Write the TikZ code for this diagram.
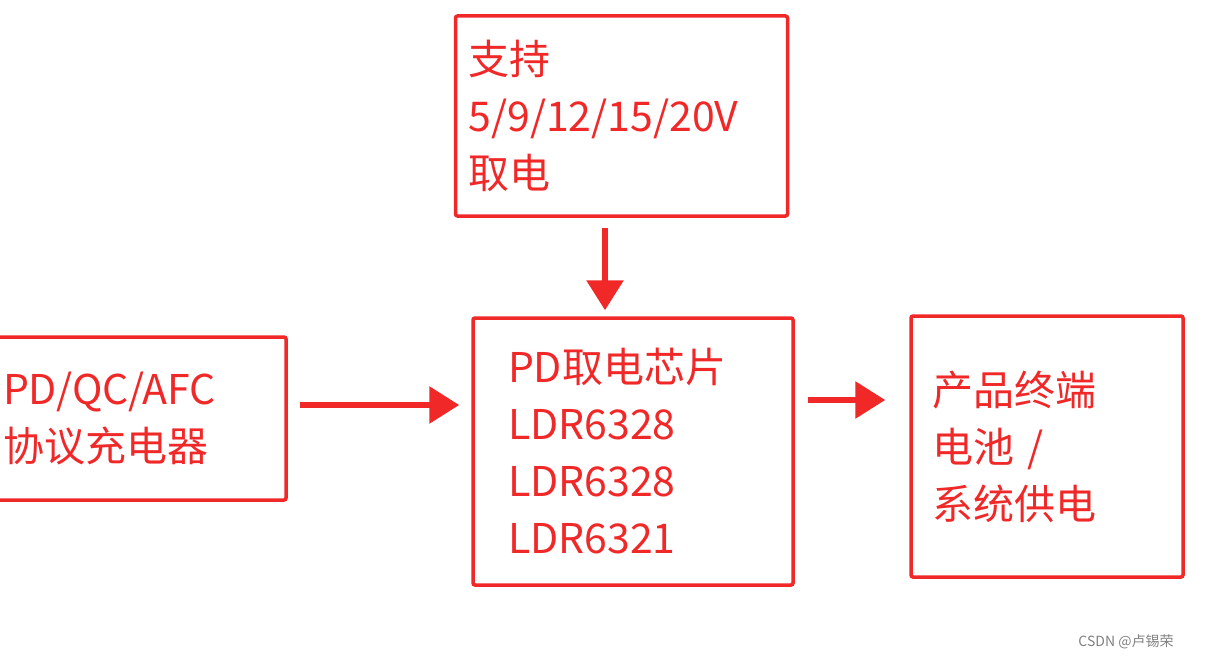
\documentclass[tikz,border=0pt]{standalone}
\usepackage{fontspec}
\setmainfont{Noto Sans CJK SC}
\usetikzlibrary{arrows.meta}
\definecolor{boxred}{RGB}{240,40,40}

\begin{document}
\begin{tikzpicture}[x=1pt,y=-1pt,
    box/.style={draw=boxred,line width=3.5pt,rounded corners=2pt,text=boxred,
      align=left,inner ysep=0pt,font=\fontsize{41}{57}\selectfont},
    feed/.style={draw=boxred,line width=6pt,
      -{Triangle[length=30pt,width=36pt]},fill=boxred}]
    \useasboundingbox (0,0) rectangle (1207,661);
    \node[box,minimum width=319pt,minimum height=200pt,text width=306pt,inner xsep=13pt] (SRC) at (621.5,116) {支持\\5/9/12/15/20V\\取电};
    \node[box,minimum width=286pt,minimum height=163pt,text width=270pt,inner xsep=13pt] (CHG) at (138,418.5) {PD/QC/AFC\\协议充电器};
    \node[box,minimum width=292pt,minimum height=267pt,text width=250pt,inner xsep=35pt] (CHIP) at (633,451.5) {PD取电芯片\\LDR6328\\LDR6328\\LDR6321};
    \node[box,minimum width=256pt,minimum height=261pt,text width=230pt,inner xsep=21pt] (LOAD) at (1047,446.5) {产品终端\\电池 /\\系统供电};
    \node[text=gray,font=\fontsize{14}{16}\selectfont] (MARK) at (1126,642) {CSDN @卢锡荣};

    \draw[feed,shorten <=10pt,shorten >=6pt] (SRC.south -| 605,0) -- (CHIP.north -| 605,0);
    \draw[feed,shorten <=12pt,shorten >=12pt] (CHG.east |- 0,405) -- (CHIP.west |- 0,405);
    \draw[feed,shorten <=13pt,shorten >=24pt] (CHIP.east |- 0,400) -- (LOAD.west |- 0,400);
\end{tikzpicture}
\end{document}
